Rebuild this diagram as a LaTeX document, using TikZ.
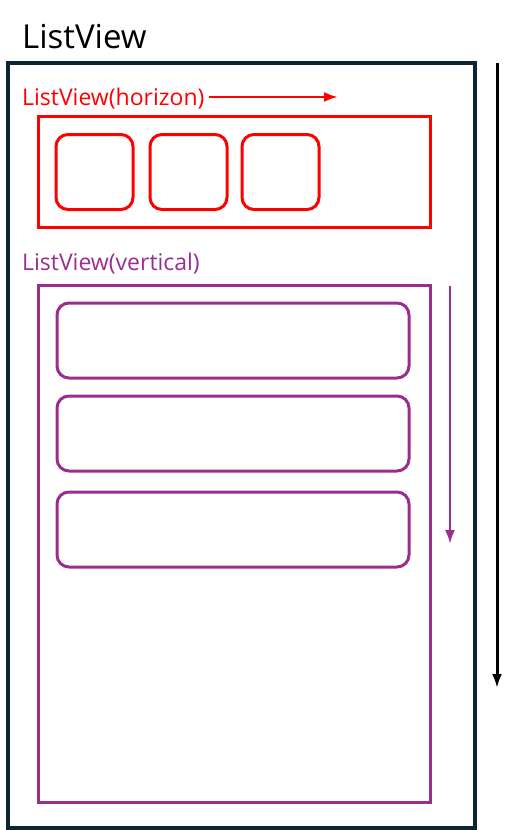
\documentclass[tikz,border=0pt]{standalone}
\usepackage{fontspec}
\setmainfont{Open Sans}
\usetikzlibrary{arrows.meta, positioning}
\definecolor{framecol}{RGB}{12,37,50}
\definecolor{hcol}{RGB}{255,0,0}
\definecolor{vcol}{RGB}{155,45,145}

\begin{document}
\begin{tikzpicture}[x=1pt, y=-1pt, >={Latex[length=14pt, width=10pt]},
	box/.style = {draw, minimum width=#1, inner sep=0pt},
	item/.style = {draw, rounded corners=12pt, inner sep=0pt},
	label/.style = {anchor=base west, inner sep=0pt}]
	\useasboundingbox (0,0) rectangle (510,830);
	%%%	Contenitore esterno
	\node [label, font=\fontsize{33}{33}\selectfont] (title) at (22,48) {ListView};
	\node [box=467pt, minimum height=765pt, framecol, line width=3.5pt] (outer) at (241.5,445.5) {};
	\coordinate (scrollA) at (497,63);
	\coordinate (scrollB) at (497,688);
	\draw [->, line width=3pt] (scrollA) -- (scrollB);
	%%%	Lista orizzontale
	\node [label, hcol, font=\fontsize{23}{23}\selectfont] (hlabel) at (22,105) {ListView(horizon)};
	\coordinate (harrow) at (338,97);
	\draw [->, hcol, line width=2.5pt] (hlabel.east |- harrow) ++(4,0) -- (harrow);
	\node [box=392pt, minimum height=111pt, hcol, line width=3pt] (hlist) at (234,171.5) {};
	\foreach \x/\n in {94.5/1, 188.5/2, 280.5/3}
		\node [item, hcol, line width=3pt, minimum width=77pt, minimum height=75pt] (hitem\n) at (\x,172) {};
	%%%	Lista verticale
	\node [label, vcol, font=\fontsize{23}{23}\selectfont] (vlabel) at (22,270) {ListView(vertical)};
	\node [box=392pt, minimum height=517pt, vcol, line width=3pt] (vlist) at (234,543.5) {};
	\foreach \y/\n in {340.5/1, 433.5/2, 529.5/3}
		\node [item, vcol, line width=3pt, minimum width=352pt, minimum height=75pt] (vitem\n) at (233,\y) {};
	\coordinate (vscrollA) at (450,286);
	\coordinate (vscrollB) at (450,544);
	\draw [->, vcol, line width=2.5pt] (vscrollA) -- (vscrollB);
\end{tikzpicture}
\end{document}
